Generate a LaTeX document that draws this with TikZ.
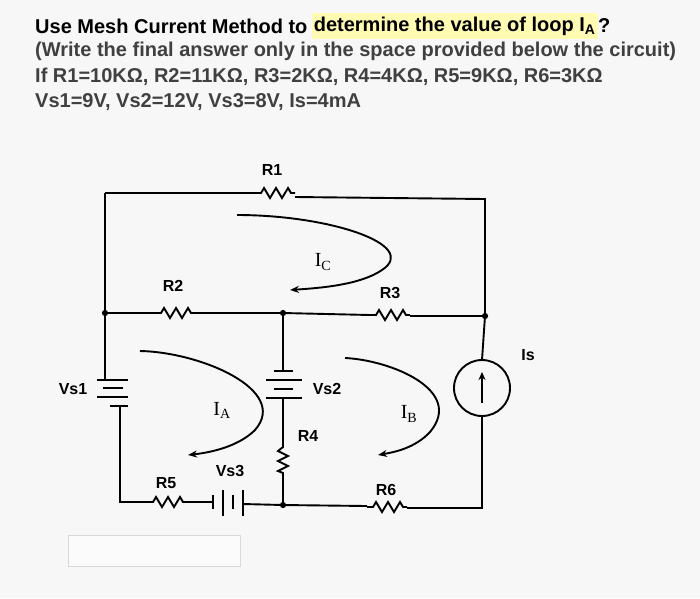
\documentclass[tikz,border=0pt]{standalone}
\usepackage{fontspec}
\setmainfont{Liberation Sans}
\usepackage{tikz}
\usetikzlibrary{arrows.meta}
\newfontfamily\serifA{Liberation Serif}
\tikzset{
 wire/.style={line width=1.9pt},
 lbl/.style={font=\bfseries\fontsize{16}{18}\selectfont, inner sep=1pt},
 head/.style={font=\bfseries\fontsize{20}{23}\selectfont, anchor=west, inner sep=0pt},
 mesh/.style={line width=1.9pt, -{Stealth[length=9pt,width=7pt]}},
 ml/.style={font=\serifA\fontsize{20}{22}\selectfont},
 dot/.style={circle, fill, inner sep=2.2pt},
 hres/.pic={\draw[wire] (-20,0) -- (-14,0) -- (-11,-5) -- (-5,5) -- (1,-5) -- (7,5) -- (13,-5) -- (16,0) -- (20,0);},
 vres/.pic={\draw[wire] (0,-14) -- (0,-11) -- (-5,-7) -- (5,-2) -- (-5,3) -- (5,8) -- (-5,13) -- (0,15) -- (0,16);}
}
\begin{document}
\begin{tikzpicture}[x=1pt,y=-1pt]
\useasboundingbox (0,0) rectangle (700,598);
\fill[gray!6] (0,0) rectangle (700,598);
\node[head] (t1a) at (35,26) {Use Mesh Current Method to};
\node[head, fill=yellow!30, inner ysep=4pt, inner xsep=2pt] (t1b) at ([xshift=4pt]t1a.east) {determine the value of loop I\textsubscript{A}};
\node[head] (t1c) at (t1b.east) {?};
\node[head, text=black!75] (t2) at (35,51) {(Write the final answer only in the space provided below the circuit)};
\node[head, text=black!75] (t3) at (35,77) {If R1=10KΩ, R2=11KΩ, R3=2KΩ, R4=4KΩ, R5=9KΩ, R6=3KΩ};
\node[head, text=black!75] (t4) at (35,102) {Vs1=9V, Vs2=12V, Vs3=8V, Is=4mA};
\draw[gray!30, fill=gray!3] (68,535) rectangle (240,566);
% coordinates
\coordinate (TL) at (105,193); \coordinate (TR) at (485,199);
\coordinate (ML) at (105,313); \coordinate (MM) at (283,313); \coordinate (MR) at (485,316);
\coordinate (BM) at (283,505); \coordinate (BR) at (482,508);
% top
\draw[wire] (TL) -- (255,193); \pic at (275,193) {hres}; \draw[wire] (295,197) -- (TR) -- (MR);
% middle
\draw[wire] (ML) -- (155,313); \pic at (175,313) {hres}; \draw[wire] (195,313) -- (MM) -- (370,315);
\pic at (390,315) {hres}; \draw[wire] (410,316) -- (MR);
% left branch
\draw[wire] (TL) -- (ML) -- (105,380);
\draw[wire] (97,380) -- (128,380); \draw[wire] (103,388) -- (123,388);
\draw[wire] (97,397) -- (128,397); \draw[wire] (110,406) -- (128,406);
\draw[wire] (120,406) -- (120,502) -- (147,502);
\pic at (167,502) {hres};
\draw[wire] (187,502) -- (213,502);
\draw[wire] (213,495) -- (213,509); \draw[wire] (223,490) -- (223,516);
\draw[wire] (233,495) -- (233,509); \draw[wire] (243,490) -- (243,516);
\draw[wire] (243,504) -- (BM) -- (367,506);
\pic at (387,507) {hres};
\draw[wire] (407,508) -- (BR) -- (482,416);
% middle branch
\draw[wire] (MM) -- (283,371);
\draw[wire] (274,371) -- (293,371); \draw[wire] (266,380) -- (302,380);
\draw[wire] (274,389) -- (293,389); \draw[wire] (266,398) -- (302,398);
\draw[wire] (283,398) -- (283,444); \pic at (283,458) {vres}; \draw[wire] (283,474) -- (BM);
% current source
\draw[wire] (MR) -- (482,360);
\node[draw, circle, line width=1.9pt, minimum size=56pt, inner sep=0pt] (is) at (482,388) {};
\draw[wire, -{Stealth[length=8pt,width=7pt]}] (482,403) -- (482,372);
\foreach \p in {ML,MM,MR,BM} \node[dot] at (\p) {};
% labels
\node[lbl] (r1) at (272,170) {R1};
\node[lbl] (r2) at (173,286) {R2};
\node[lbl] (r3) at (390,293) {R3};
\node[lbl] (vs1) at (73,389) {Vs1};
\node[lbl] (vs2) at (327,389) {Vs2};
\node[lbl] (r4) at (308,436) {R4};
\node[lbl] (vs3) at (230,471) {Vs3};
\node[lbl] (r5) at (166,483) {R5};
\node[lbl] (r6) at (386,490) {R6};
\node[lbl] (isl) at (528,355) {Is};
\node[ml] (ia) at (222,410) {I\textsubscript{A}};
\node[ml] (ib) at (409,414) {I\textsubscript{B}};
\node[ml] (ic) at (323,262) {I\textsubscript{C}};
% mesh arrows
\draw[mesh] (237,215) .. controls (330,215) and (420,245) .. (382,270) .. controls (360,285) and (320,288) .. (290,290);
\draw[mesh] (140,351) .. controls (200,352) and (290,390) .. (255,430) .. controls (240,445) and (215,452) .. (188,455);
\draw[mesh] (345,358) .. controls (390,360) and (465,390) .. (430,432) .. controls (415,448) and (395,452) .. (378,455);
\end{tikzpicture}
\end{document}
